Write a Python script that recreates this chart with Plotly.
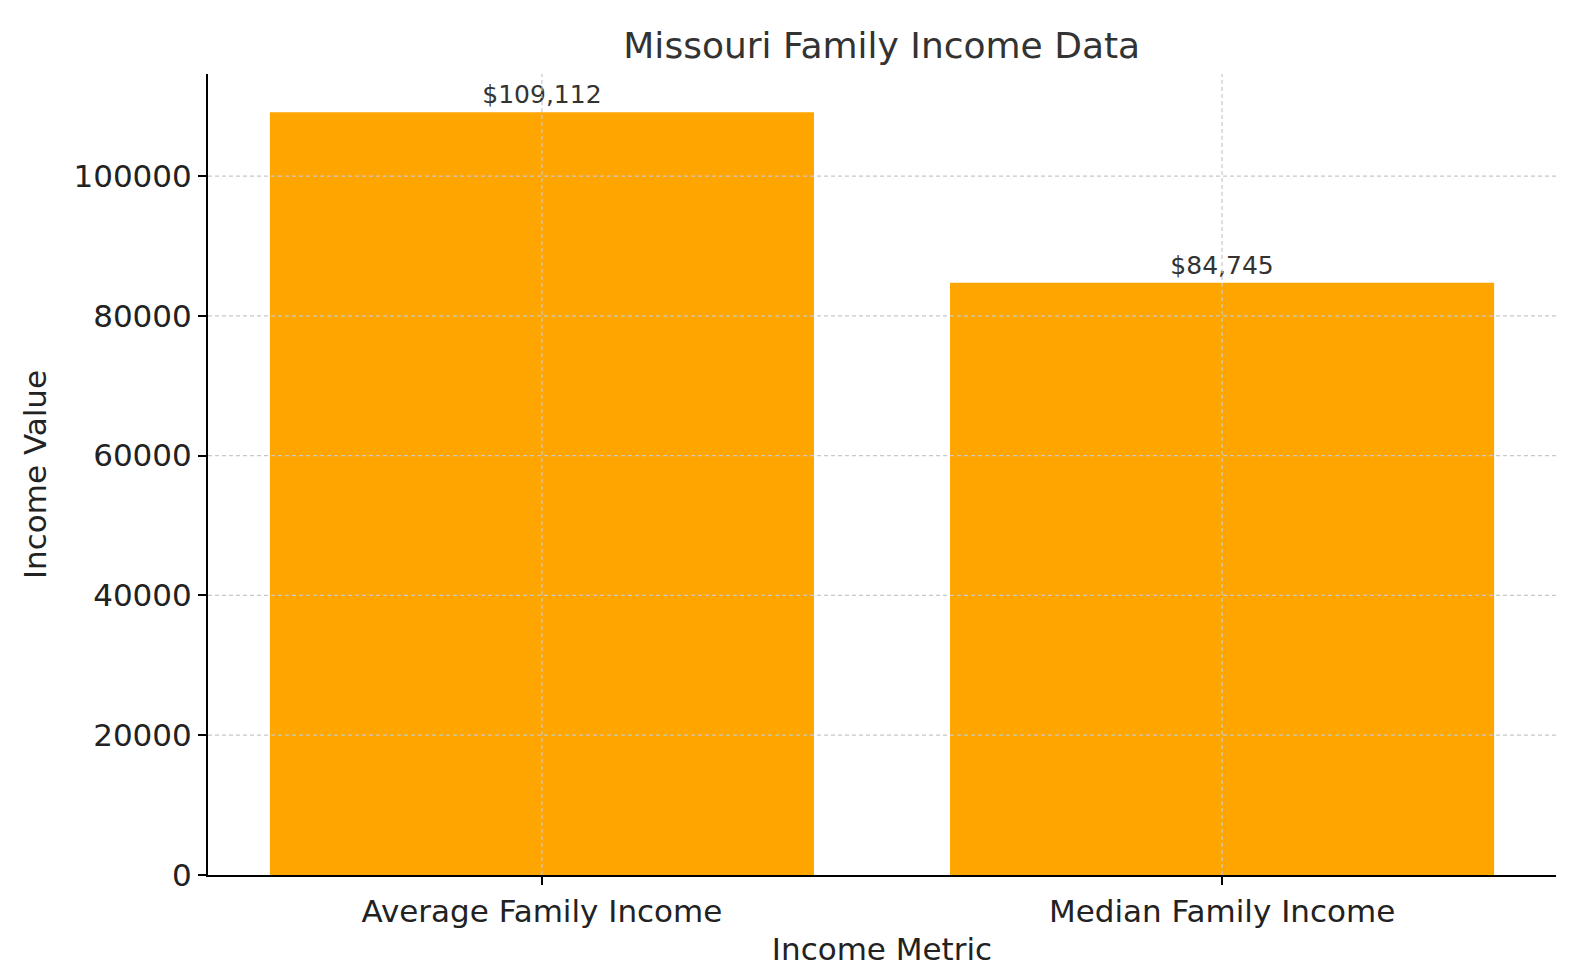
import plotly.graph_objects as go

categories = ["Average Family Income", "Median Family Income"]
values = [109112, 84745]
labels = ["$109,112", "$84,745"]
y_ticks = [0, 20000, 40000, 60000, 80000, 100000]

fig = go.Figure(go.Bar(
    x=categories, y=values, width=0.8,
    marker=dict(color="#FFA500", line=dict(width=0)),
    text=labels, textposition="outside",
    textfont=dict(size=25, color="#333333"),
    cliponaxis=False,
))

# grid drawn above the bars, as in the reference
grid = dict(color="#c8c8c8", width=1.2, dash="4px,3px")
for v in y_ticks[1:]:
    fig.add_shape(type="line", xref="paper", x0=0, x1=1, yref="y", y0=v, y1=v,
                  line=grid, layer="above")
for c in categories:
    fig.add_shape(type="line", xref="x", x0=c, x1=c, yref="paper", y0=0, y1=1,
                  line=grid, layer="above")

font = "DejaVu Sans"
fig.update_layout(
    width=1580, height=980,
    margin=dict(l=200, r=32, t=66, b=113),
    plot_bgcolor="white", paper_bgcolor="white",
    font=dict(family=font, color="#222222"),
    title=dict(text="Missouri Family Income Data", x=0.553, xanchor="center",
               y=0.962, yanchor="middle", font=dict(size=36, color="#333333")),
    showlegend=False,
)
fig.update_xaxes(
    range=[-0.491, 1.491], showline=True, linecolor="black", linewidth=2,
    ticks="outside", ticklen=8, tickwidth=1.5, tickcolor="black",
    tickfont=dict(size=31), showgrid=False,
    title=dict(text="Income Metric", font=dict(size=31), standoff=10),
)
fig.update_yaxes(
    range=[0, 114600], tickvals=y_ticks, tickformat="d", showline=True,
    linecolor="black", linewidth=2, ticks="outside", ticklen=8, tickwidth=1.5,
    tickcolor="black", tickfont=dict(size=31), showgrid=False, zeroline=False,
    title=dict(text="Income Value", font=dict(size=31), standoff=18),
)
fig.write_html("out.html")
